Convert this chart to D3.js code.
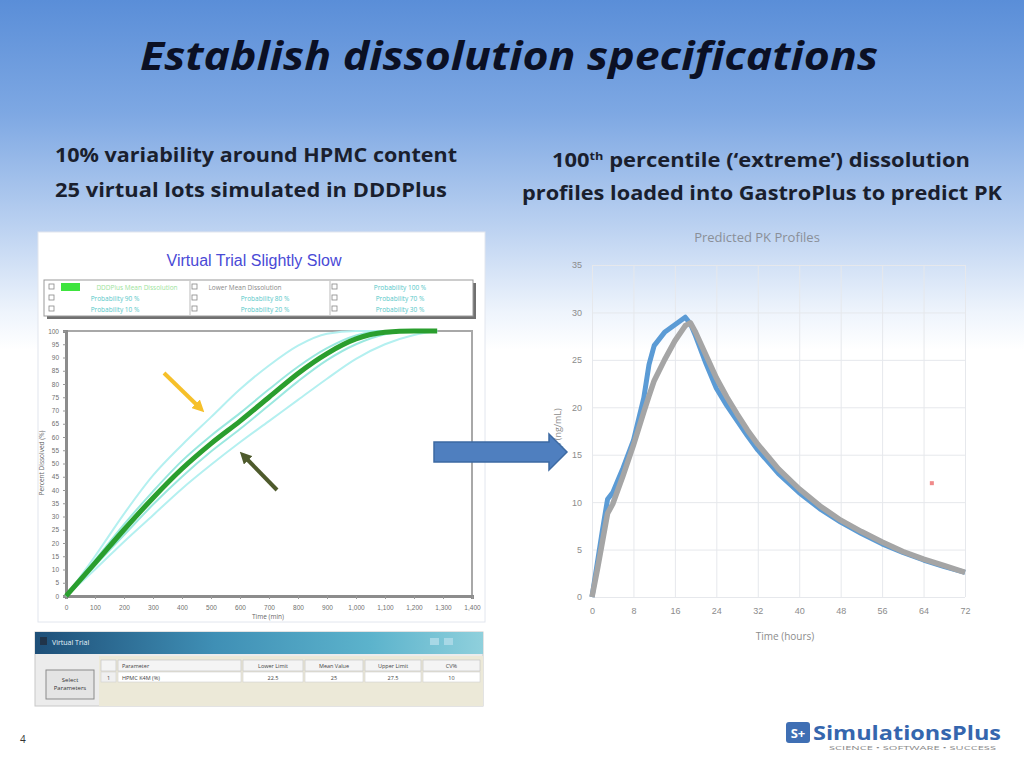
<!DOCTYPE html>
<html>
<head>
<meta charset="utf-8">
<script src="https://cdn.jsdelivr.net/npm/d3@7"></script>
<style>
  body { margin: 0; overflow: hidden; background: #fff; }
  svg { display: block; font-family: "Open Sans", "DejaVu Sans", sans-serif; }
</style>
</head>
<body>
<svg id="slide" width="1024" height="761"></svg>
<script>
// ---- data ----
// left: DDDPlus virtual trial (% dissolved vs time, min)
const dissTime   = [0, 100, 200, 300, 400, 500, 600, 700, 800, 900, 1000, 1100, 1200, 1280];
const dissMean   = [0, 12.4, 25, 37, 48, 57.5, 66, 75, 84, 91.5, 97, 99.5, 100, 100];
const dissUpper  = [0, 15, 31, 45.5, 57, 67.5, 78, 87, 94.5, 99, 100, 100, 100, 100];
const dissLower  = [0, 10, 20.5, 30.5, 40.5, 49.5, 58, 66, 74, 82, 89.5, 95, 98.5, 100];
const dissInnerU = [0, 13.5, 27, 39.5, 51, 60.5, 69, 78, 86.5, 93.5, 98.3, 100, 100, 100];
const dissInnerL = [0, 11.5, 23, 34.5, 45, 54.5, 63, 72, 81, 89, 95, 98.8, 100, 100];
const dissTicksX = [0, 100, 200, 300, 400, 500, 600, 700, 800, 900, 1000, 1100, 1200, 1300, 1400];
const dissTicksY = [0, 5, 10, 15, 20, 25, 30, 35, 40, 45, 50, 55, 60, 65, 70, 75, 80, 85, 90, 95, 100];

const legendRow1 = ["DDDPlus Mean Dissolution", "Lower Mean Dissolution", "Probability 100 %"];
const legendRow2 = ["Probability 90 %", "Probability 80 %", "Probability 70 %"];
const legendRow3 = ["Probability 10 %", "Probability 20 %", "Probability 30 %"];

const tableHeaders = ["", "Parameter", "Lower Limit", "Mean Value", "Upper Limit", "CV%"];
const tableRow     = ["1", "HPMC K4M (%)", "22.5", "25", "27.5", "10"];

// right: GastroPlus predicted PK (conc vs time, hours)
const pkTime  = [0, 1, 2, 3, 4, 5, 6, 8, 10, 11, 12, 14, 16, 18, 19, 20, 22, 24, 26, 28, 30, 32, 36, 40, 44, 48, 52, 56, 60, 64, 68, 72];
const pkBlue  = [0, 3.5, 7, 10.3, 11, 12.3, 13.6, 16.5, 21, 24.5, 26.5, 27.9, 28.7, 29.5, 28.8, 27.5, 24.6, 22, 20.2, 18.6, 17, 15.5, 13, 11, 9.3, 7.9, 6.7, 5.6, 4.7, 3.9, 3.2, 2.6];
const pkGray  = [0, 2.8, 5.8, 8.8, 9.8, 11.3, 12.8, 16, 19.5, 21.2, 22.8, 25, 27, 28.6, 28.9, 27.9, 25.5, 23.1, 21.1, 19.3, 17.6, 16.1, 13.5, 11.4, 9.6, 8.1, 6.9, 5.8, 4.8, 4.0, 3.3, 2.6];
const pkObsTime = [65.6];
const pkObs     = [12];
const pkTicksX = [0, 8, 16, 24, 32, 40, 48, 56, 64, 72];
const pkTicksY = [0, 5, 10, 15, 20, 25, 30, 35];

const svg = d3.select("#slide");

// ---- background ----
const defs = svg.append("defs");
const bg = defs.append("linearGradient").attr("id", "bg").attr("x1", 0).attr("y1", 0).attr("x2", 0).attr("y2", 1);
[[0, "#5a8ed8"], [0.15, "#7ea8e3"], [0.3, "#bcd2f1"], [0.41, "#eef4fc"], [0.46, "#ffffff"], [1, "#ffffff"]]
  .forEach(s => bg.append("stop").attr("offset", s[0]).attr("stop-color", s[1]));
svg.append("rect").attr("width", 1024).attr("height", 761).attr("fill", "url(#bg)");

// title + subtitles
svg.append("text").attr("x", 509).attr("y", 70).attr("text-anchor", "middle")
  .attr("font-size", 40).attr("font-weight", 700).attr("font-style", "italic")
  .attr("fill", "#0b1024").attr("textLength", 738).attr("lengthAdjust", "spacingAndGlyphs")
  .text("Establish dissolution specifications");

function sub(x, y, w, txt) {
  return svg.append("text").attr("x", x).attr("y", y).attr("text-anchor", "middle")
    .attr("font-size", 19).attr("font-weight", 700).attr("fill", "#1a1f2e")
    .attr("textLength", w).attr("lengthAdjust", "spacingAndGlyphs").text(txt);
}
sub(256, 162, 402, "10% variability around HPMC content");
sub(251, 197, 392, "25 virtual lots simulated in DDDPlus");
const s3 = svg.append("text").attr("x", 761).attr("y", 167).attr("text-anchor", "middle")
  .attr("font-size", 19).attr("font-weight", 700).attr("fill", "#1a1f2e")
  .attr("textLength", 418).attr("lengthAdjust", "spacingAndGlyphs");
s3.append("tspan").text("100");
s3.append("tspan").attr("font-size", 11).attr("dy", -7).text("th");
s3.append("tspan").attr("dy", 7).text(" percentile (\u2018extreme\u2019) dissolution");
sub(762, 200, 480, "profiles loaded into GastroPlus to predict PK");

// ---- left panel: DDDPlus screenshot ----
svg.append("rect").attr("x", 38).attr("y", 232).attr("width", 447).attr("height", 390)
  .attr("fill", "#fff").attr("stroke", "#e2e6ee");

svg.append("text").attr("x", 254).attr("y", 266).attr("text-anchor", "middle")
  .attr("font-family", "Liberation Sans, Arial, sans-serif").attr("font-size", 16)
  .attr("fill", "#4a4ad6").text("Virtual Trial Slightly Slow");

// legend box
svg.append("rect").attr("x", 47).attr("y", 283).attr("width", 429).attr("height", 36).attr("fill", "#707070");
svg.append("rect").attr("x", 44).attr("y", 280).attr("width", 429).attr("height", 36).attr("fill", "#fff").attr("stroke", "#999");
const colX = [49, 192, 332];
const legRows = [legendRow1, legendRow2, legendRow3];
legRows.forEach((row, r) => {
  const y = 287 + r * 11;
  row.forEach((t, c) => {
    svg.append("rect").attr("x", colX[c]).attr("y", y - 3).attr("width", 5).attr("height", 5)
      .attr("fill", "#fff").attr("stroke", "#888").attr("stroke-width", 0.8);
    const col = (r === 0 && c === 1) ? "#8a8a8a" : (r === 0 && c === 0) ? "#9ce39c" : "#55c8c8";
    svg.append("text").attr("x", c === 0 ? 115 + (r === 0 ? 22 : 0) : c === 1 ? (r === 0 ? 245 : 265) : 400)
      .attr("y", y + 2.5).attr("text-anchor", "middle").attr("font-size", 6.5).attr("fill", col).text(t);
  });
});
svg.append("rect").attr("x", 61).attr("y", 283).attr("width", 19).attr("height", 8).attr("fill", "#3ee43e");
[190, 330].forEach(x => svg.append("line").attr("x1", x).attr("x2", x).attr("y1", 281).attr("y2", 315).attr("stroke", "#bbb"));

// plot
const dx = d3.scaleLinear().domain([0, 1400]).range([66, 472]);
const dy = d3.scaleLinear().domain([0, 100]).range([596, 331]);
svg.append("rect").attr("x", 66).attr("y", 331).attr("width", 406).attr("height", 265)
  .attr("fill", "#fff").attr("stroke", "#a8a8a8").attr("stroke-width", 2);

const gxl = svg.append("g").attr("transform", "translate(0,596)")
  .call(d3.axisBottom(dx).tickValues(dissTicksX).tickFormat(d3.format(",")).tickSize(3).tickPadding(6));
const gyl = svg.append("g").attr("transform", "translate(66,0)")
  .call(d3.axisLeft(dy).tickValues(dissTicksY).tickSize(3).tickPadding(4));
[gxl, gyl].forEach(g => {
  g.select(".domain").attr("stroke", "#8c8c8c").attr("stroke-width", 3);
  g.selectAll(".tick line").attr("stroke", "#999");
  g.selectAll(".tick text").attr("font-size", 6.5).attr("fill", "#707070");
});
svg.append("text").attr("x", 268).attr("y", 619).attr("text-anchor", "middle")
  .attr("font-size", 6.5).attr("fill", "#666").text("Time (min)");
svg.append("text").attr("transform", "translate(44,463) rotate(-90)").attr("text-anchor", "middle")
  .attr("font-size", 6.5).attr("fill", "#666").text("Percent Dissolved (%)");

const dLine = d3.line().x((d, i) => dx(dissTime[i])).y(d => dy(d)).curve(d3.curveMonotoneX);
const dissSeries = [
  { v: dissUpper, c: "#b4f0f0", w: 2 },
  { v: dissLower, c: "#b4f0f0", w: 2 },
  { v: dissInnerU, c: "#9be8e0", w: 2 },
  { v: dissInnerL, c: "#9be8e0", w: 2 },
  { v: dissMean, c: "#2a9e2e", w: 5 }
];
svg.append("g").selectAll("path").data(dissSeries).join("path")
  .attr("d", d => dLine(d.v)).attr("fill", "none")
  .attr("stroke", d => d.c).attr("stroke-width", d => d.w);

// pointer arrows
defs.append("marker").attr("id", "hy").attr("viewBox", "0 0 10 10").attr("refX", 5).attr("refY", 5)
  .attr("markerWidth", 3).attr("markerHeight", 3).attr("orient", "auto")
  .append("path").attr("d", "M0,0L10,5L0,10z").attr("fill", "#f6c02a");
defs.append("marker").attr("id", "ho").attr("viewBox", "0 0 10 10").attr("refX", 5).attr("refY", 5)
  .attr("markerWidth", 3).attr("markerHeight", 3).attr("orient", "auto")
  .append("path").attr("d", "M0,0L10,5L0,10z").attr("fill", "#4e5a2c");
svg.append("line").attr("x1", 164).attr("y1", 373).attr("x2", 200).attr("y2", 408)
  .attr("stroke", "#f6c02a").attr("stroke-width", 4).attr("marker-end", "url(#hy)");
svg.append("line").attr("x1", 277).attr("y1", 490).attr("x2", 244).attr("y2", 456)
  .attr("stroke", "#4e5a2c").attr("stroke-width", 4).attr("marker-end", "url(#ho)");

// ---- bottom-left window ----
const tb = defs.append("linearGradient").attr("id", "tb");
[[0, "#1e4f78"], [0.4, "#3f8fb5"], [0.75, "#5cb3cc"], [1, "#8fd0dc"]]
  .forEach(s => tb.append("stop").attr("offset", s[0]).attr("stop-color", s[1]));
svg.append("rect").attr("x", 35).attr("y", 632).attr("width", 448).attr("height", 74).attr("fill", "#ececec").attr("stroke", "#c8c8c8");
svg.append("rect").attr("x", 35).attr("y", 632).attr("width", 448).attr("height", 22).attr("fill", "url(#tb)");
svg.append("rect").attr("x", 40).attr("y", 637).attr("width", 7).attr("height", 8).attr("fill", "#20344a");
svg.append("text").attr("x", 52).attr("y", 645).attr("font-size", 7).attr("fill", "#e8f4fa").text("Virtual Trial");
[430, 444].forEach(x => svg.append("rect").attr("x", x).attr("y", 638).attr("width", 9).attr("height", 7).attr("fill", "#a8d8e6"));
svg.append("rect").attr("x", 99).attr("y", 656).attr("width", 384).attr("height", 50).attr("fill", "#ece9d8");
svg.append("rect").attr("x", 46).attr("y", 670).attr("width", 48).attr("height", 29).attr("fill", "#e4e4e4").attr("stroke", "#8a8a8a");
svg.append("text").attr("x", 70).attr("y", 682).attr("text-anchor", "middle").attr("font-size", 6).attr("fill", "#333").text("Select");
svg.append("text").attr("x", 70).attr("y", 690).attr("text-anchor", "middle").attr("font-size", 6).attr("fill", "#333").text("Parameters");
const colEdges = [101, 118, 243, 305, 365, 423, 482];
tableHeaders.forEach((h, i) => {
  const x0 = colEdges[i], w = colEdges[i + 1] - colEdges[i] - 2;
  svg.append("rect").attr("x", x0).attr("y", 660).attr("width", w).attr("height", 11).attr("fill", "#f4f4f4").attr("stroke", "#c0c0c0").attr("stroke-width", 0.6);
  svg.append("rect").attr("x", x0).attr("y", 672).attr("width", w).attr("height", 10).attr("fill", i === 0 ? "#f0f0f0" : "#fff").attr("stroke", "#d0d0d0").attr("stroke-width", 0.6);
  svg.append("text").attr("x", i === 1 ? x0 + 4 : x0 + w / 2).attr("y", 668).attr("text-anchor", i === 1 ? "start" : "middle")
    .attr("font-size", 5.5).attr("fill", "#444").text(h);
  svg.append("text").attr("x", i === 1 ? x0 + 4 : x0 + w / 2).attr("y", 679.5).attr("text-anchor", i === 1 ? "start" : "middle")
    .attr("font-size", 5.5).attr("fill", "#444").text(tableRow[i]);
});

// ---- right chart: predicted PK ----
const px = d3.scaleLinear().domain([0, 72]).range([592, 965]);
const py = d3.scaleLinear().domain([0, 35]).range([597, 265]);

svg.append("text").attr("x", 757).attr("y", 242).attr("text-anchor", "middle")
  .attr("font-size", 13).attr("fill", "#8a8f98").text("Predicted PK Profiles");

const gxr = svg.append("g").attr("transform", "translate(0,597)")
  .call(d3.axisBottom(px).tickValues(pkTicksX).tickSize(-(597 - 265)).tickPadding(11));
const gyr = svg.append("g").attr("transform", "translate(592,0)")
  .call(d3.axisLeft(py).tickValues(pkTicksY).tickSize(-(965 - 592)).tickPadding(10));
[gxr, gyr].forEach(g => {
  g.select(".domain").remove();
  g.selectAll(".tick line").attr("stroke", "#e6e8ec").attr("stroke-width", 1);
  g.selectAll(".tick text").attr("font-size", 9).attr("fill", "#8c8c8c");
});
svg.append("text").attr("x", 785).attr("y", 640).attr("text-anchor", "middle")
  .attr("font-size", 10).attr("fill", "#8c8c8c").text("Time (hours)");
svg.append("text").attr("transform", "translate(561,431) rotate(-90)").attr("text-anchor", "middle")
  .attr("font-size", 9).attr("fill", "#8c8c8c").text("Cp (ng/mL)");

const pLine = d3.line().x((d, i) => px(pkTime[i])).y(d => py(d));
svg.append("path").attr("d", pLine(pkBlue)).attr("fill", "none")
  .attr("stroke", "#5b9bd5").attr("stroke-width", 5).attr("stroke-linejoin", "round");
svg.append("path").attr("d", pLine(pkGray)).attr("fill", "none")
  .attr("stroke", "#a5a5a5").attr("stroke-width", 5.5).attr("stroke-linejoin", "round");
svg.append("g").selectAll("rect").data(pkObs).join("rect")
  .attr("x", (d, i) => px(pkObsTime[i]) - 2).attr("y", d => py(d) - 2)
  .attr("width", 4).attr("height", 4).attr("fill", "#f08a8a");

// big connecting arrow
svg.append("path")
  .attr("d", "M434,442 L549,442 L549,434 L567,452 L549,470 L549,462 L434,462 Z")
  .attr("fill", "#4f7fbf").attr("stroke", "#3d6aa3").attr("stroke-width", 1.5);

// ---- footer ----
svg.append("text").attr("x", 20).attr("y", 743).attr("font-size", 10).attr("fill", "#333").text("4");
svg.append("rect").attr("x", 786).attr("y", 722).attr("width", 24).attr("height", 21).attr("rx", 3).attr("fill", "#3f6fb4");
svg.append("text").attr("x", 798).attr("y", 738).attr("text-anchor", "middle").attr("font-size", 13)
  .attr("font-weight", 700).attr("fill", "#fff").text("S+");
svg.append("text").attr("x", 813).attr("y", 740).attr("font-size", 20).attr("font-weight", 700)
  .attr("fill", "#3566ae").attr("textLength", 188).attr("lengthAdjust", "spacingAndGlyphs").text("SimulationsPlus");
svg.append("text").attr("x", 829).attr("y", 750).attr("font-size", 5.5).attr("fill", "#8a8a8a")
  .attr("textLength", 167).attr("lengthAdjust", "spacingAndGlyphs").text("SCIENCE \u2022 SOFTWARE \u2022 SUCCESS");
</script>
</body>
</html>
